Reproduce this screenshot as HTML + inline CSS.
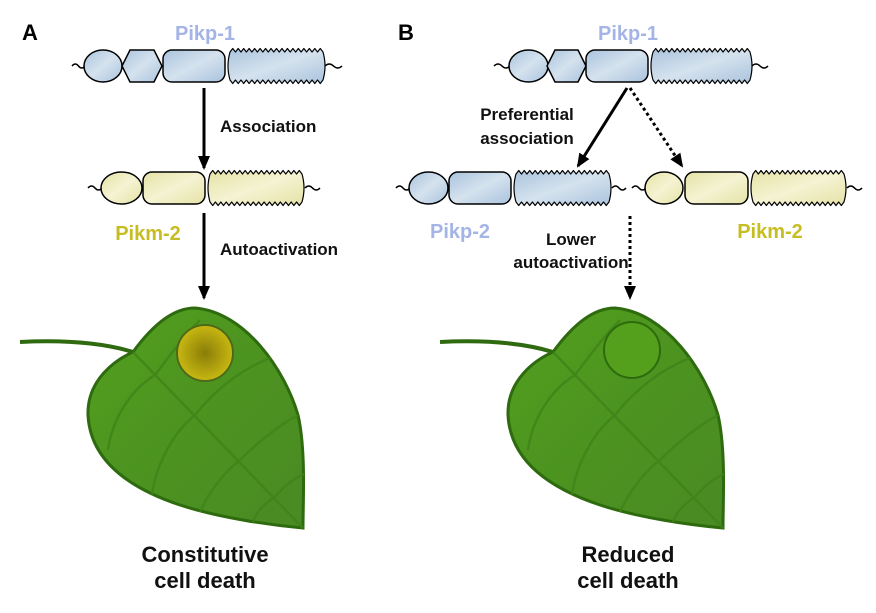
<!DOCTYPE html>
<html><head><meta charset="utf-8"><style>
body{margin:0;background:#fff}
svg{display:block}
text{font-family:"Liberation Sans",sans-serif;font-weight:bold}
</style></head><body>
<svg id="s" width="876" height="613" viewBox="0 0 876 613" xmlns="http://www.w3.org/2000/svg">
<defs>
<linearGradient id="bl" x1="0" y1="0" x2="1" y2="1"><stop offset="0" stop-color="#a9c3dd"/><stop offset=".5" stop-color="#d5e2ee"/><stop offset="1" stop-color="#a9c3dd"/></linearGradient>
<linearGradient id="yl" x1="0" y1="0" x2="1" y2="1"><stop offset="0" stop-color="#e5e2a6"/><stop offset=".5" stop-color="#f5f3d2"/><stop offset="1" stop-color="#e5e2a6"/></linearGradient>
<linearGradient id="lf" x1="0" y1="0" x2="1" y2="1"><stop offset="0" stop-color="#53a01e"/><stop offset=".5" stop-color="#4c9320"/><stop offset="1" stop-color="#4a8a24"/></linearGradient>
<radialGradient id="sp"><stop offset="0" stop-color="#8a7d08"/><stop offset="1" stop-color="#c8b812"/></radialGradient>
<marker id="ah" markerWidth="14" markerHeight="14" refX="12" refY="7" orient="auto" markerUnits="userSpaceOnUse"><path d="M0,1 L14,7 L0,13 Z" fill="#000"/></marker>
<g id="leaf">
<path d="M20,342 C60,340 100,342 133,352" stroke="#2f6a10" stroke-width="4" fill="none"/>
<path d="M133,352 C155,322 175,308 195,308 C245,312 285,370 298,415 C306,450 303,500 303,528 C270,525 220,518 180,505 C120,485 90,455 88,415 C87,380 115,360 133,352 Z" fill="url(#lf)" stroke="#2e6a0e" stroke-width="3"/>
<g stroke="#3f8418" stroke-width="2.5" fill="none" opacity=".8">
<path d="M133,352 L303,528"/>
<path d="M155,375 C130,390 112,420 108,450"/>
<path d="M195,415 C170,435 155,470 152,495"/>
<path d="M240,460 C220,475 205,500 200,512"/>
<path d="M275,497 C262,505 255,515 253,522"/>
<path d="M155,375 C170,355 185,335 200,320"/>
<path d="M195,415 C215,390 240,370 270,358"/>
<path d="M240,460 C260,440 280,425 298,415"/>
<path d="M275,497 C285,485 295,478 304,474"/>
</g>
</g>
</defs>
<text x="22" y="40" font-size="22">A</text>
<text x="398" y="40" font-size="22">B</text>
<text x="205" y="40" font-size="20" fill="#a4b4e6" text-anchor="middle">Pikp-1</text>
<text x="628" y="40" font-size="20" fill="#a4b4e6" text-anchor="middle">Pikp-1</text>
<text x="148" y="240" font-size="20" fill="#c6bd22" text-anchor="middle">Pikm-2</text>
<text x="460" y="238" font-size="20" fill="#a4b4e6" text-anchor="middle">Pikp-2</text>
<text x="770" y="238" font-size="20" fill="#c6bd22" text-anchor="middle">Pikm-2</text>
<g font-size="17" fill="#111">
<text x="220" y="132">Association</text>
<text x="220" y="255">Autoactivation</text>
<text x="527" y="120" text-anchor="middle">Preferential</text>
<text x="527" y="144" text-anchor="middle">association</text>
<text x="571" y="245" text-anchor="middle">Lower</text>
<text x="571" y="268" text-anchor="middle">autoactivation</text>
</g>
<g font-size="22" fill="#111" text-anchor="middle">
<text x="205" y="562">Constitutive</text>
<text x="205" y="588">cell death</text>
<text x="628" y="562">Reduced</text>
<text x="628" y="588">cell death</text>
</g>
<g stroke="#000" stroke-width="3" fill="none">
<line x1="204" y1="88" x2="204" y2="168" marker-end="url(#ah)"/>
<line x1="204" y1="213" x2="204" y2="298" marker-end="url(#ah)"/>
<line x1="627" y1="88" x2="578" y2="166" marker-end="url(#ah)"/>
<line x1="630" y1="88" x2="682" y2="166" stroke-dasharray="3,3" marker-end="url(#ah)"/>
<line x1="630" y1="216" x2="630" y2="298" stroke-dasharray="3,3" marker-end="url(#ah)"/>
</g>
<use href="#leaf"/>
<circle cx="205" cy="353" r="28" fill="url(#sp)" stroke="#4d6a18" stroke-width="2"/>
<use href="#leaf" x="420"/>
<circle cx="632" cy="350" r="28" fill="#54a01c" stroke="#2e6a0e" stroke-width="2"/>
<g id="prot"></g>
</svg>
<script>
var g=document.getElementById('prot'),h='';
function tail(x1,x2,y){var m=(x1+x2)/2;h+='<path d="M'+x1+','+y+' Q'+(x1+(m-x1)/2)+','+(y-4)+' '+m+','+y+' T'+x2+','+y+'" stroke="#000" stroke-width="1.5" fill="none"/>';}
function circ(x1,x2,y,f){h+='<ellipse cx="'+(x1+x2)/2+'" cy="'+y+'" rx="'+(x2-x1)/2+'" ry="16" fill="'+f+'" stroke="#000" stroke-width="1.5"/>';}
function hex(x1,x2,y,f){var d=8;h+='<polygon points="'+x1+','+y+' '+(x1+d)+','+(y-16)+' '+(x2-d)+','+(y-16)+' '+x2+','+y+' '+(x2-d)+','+(y+16)+' '+(x1+d)+','+(y+16)+'" fill="'+f+'" stroke="#000" stroke-width="1.5"/>';}
function rr(x1,x2,y,f){h+='<rect x="'+x1+'" y="'+(y-16)+'" width="'+(x2-x1)+'" height="32" rx="9" fill="'+f+'" stroke="#000" stroke-width="1.5"/>';}
function wav(x1,x2,y,f){var p=5.5,n=Math.round((x2-x1-6)/p),st=(x2-x1-6)/n,d='M'+(x1+3)+','+(y-14);
for(var i=0;i<n;i++){var a=x1+3+i*st;d+=' L'+(a+st/2)+','+(y-17.5)+' L'+(a+st)+','+(y-14);}
d+=' Q'+(x2+1)+','+y+' '+(x2-3)+','+(y+14);
for(var i=n-1;i>=0;i--){var a=x1+3+i*st;d+=' L'+(a+st/2)+','+(y+17.5)+' L'+a+','+(y+14);}
d+=' Q'+(x1-1)+','+y+' '+(x1+3)+','+(y-14)+'Z';
h+='<path d="'+d+'" fill="'+f+'" stroke="#000" stroke-width="1.2" stroke-linejoin="round"/>';}
var B='url(#bl)',Y='url(#yl)';
tail(72,85,66);tail(325,342,66);circ(84,122,66,B);hex(122,162,66,B);rr(163,225,66,B);wav(227,326,66,B);
tail(88,102,188);tail(305,320,188);circ(101,142,188,Y);rr(143,205,188,Y);wav(207,305,188,Y);
tail(494,510,66);tail(752,768,66);circ(509,548,66,B);hex(547,586,66,B);rr(586,648,66,B);wav(650,753,66,B);
tail(396,410,188);tail(612,626,188);circ(409,448,188,B);rr(449,511,188,B);wav(513,612,188,B);
tail(632,646,188);tail(847,862,188);circ(645,683,188,Y);rr(685,748,188,Y);wav(750,847,188,Y);
g.innerHTML=h;
</script>
</body></html>
